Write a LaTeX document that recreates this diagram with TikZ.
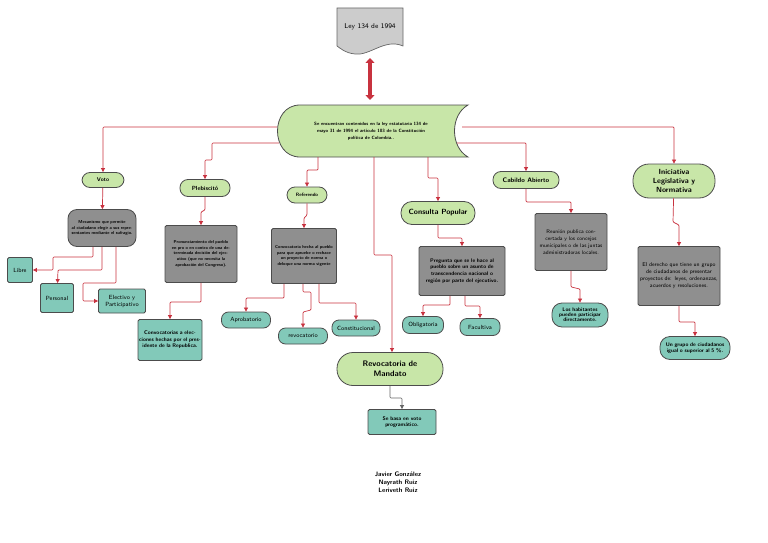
\documentclass[tikz,border=0pt]{standalone}
\usepackage{fontspec}
\setmainfont{Liberation Sans}
\usetikzlibrary{calc,arrows.meta}
\definecolor{gr}{HTML}{C8E6A8}
\definecolor{gy}{HTML}{8F8F8F}
\definecolor{tl}{HTML}{82C9B9}
\definecolor{rd}{HTML}{C8323F}
\begin{document}
\begin{tikzpicture}[x=1pt,y=-1pt,
 base/.style={draw=black!70,line width=0.8pt,align=center,inner sep=1pt,font=\sffamily\bfseries},
 green/.style={base,fill=gr,rounded corners=8pt},
 gray/.style={base,fill=gy,rounded corners=1.5pt,font=\sffamily\bfseries\fontsize{4.3}{5.6}\selectfont},
 teal/.style={base,fill=tl,rounded corners=1.5pt,font=\sffamily\fontsize{6}{7}\selectfont},
 pill/.style={teal,rounded corners=7pt},
 con/.style={draw=rd,line width=0.7pt,-{Triangle[length=4pt,width=4pt]},rounded corners=1pt}]
\useasboundingbox (0,0) rectangle (768,543);
% document shape
\draw[fill=gray!40,draw=black!60,line width=0.7pt] (337,8) -- (403,8) -- (403,46) .. controls (385,38) and (370,56) .. (355,54) .. controls (345,53) and (340,48) .. (337,46) -- cycle;
\node (doc) at (370,27) {\sffamily\fontsize{7}{8}\selectfont Ley 134 de 1994};
% banner
\draw[fill=gr,draw=black!70,line width=0.8pt] (300,105) -- (468,105) .. controls (450,115) and (450,147) .. (468,157) -- (300,157) .. controls (270,157) and (270,105) .. (300,105) -- cycle;
\node[align=center,font=\sffamily\bfseries\fontsize{4.6}{7}\selectfont,minimum width=188pt,minimum height=52pt] (ban) at (371,131) {Se encuentran contenidos en la ley estatutaria 134 de\\mayo 31 de 1994 el artículo 103 de la Constitución\\política de Colombia..};
\draw[rd,line width=3.2pt,{Triangle[length=5pt,width=9pt]}-{Triangle[length=5pt,width=9pt]}] (doc.south |- 0,58) -- (doc.south |- 0,100);
% nodes
\node[green,font=\sffamily\bfseries\fontsize{5.5}{6}\selectfont,minimum width=42pt,minimum height=15pt] (voto) at (103,180) {Voto};
\node[gray,rounded corners=9pt,text width=66pt,minimum height=37pt] (mec) at (102,228) {Mecanismo que permite\\al ciudadano elegir a sus representantes mediante el sufragio.};
\node[teal,minimum width=25pt,minimum height=25pt] (libre) at (20,270) {Libre};
\node[teal,minimum width=33pt,minimum height=29pt] (pers) at (57,298) {Personal};
\node[teal,minimum width=47pt,minimum height=24pt] (elec) at (122,301) {Electivo y\\Participativo};
\node[green,font=\sffamily\bfseries\fontsize{6}{7}\selectfont,minimum width=50pt,minimum height=17pt] (pleb) at (205,188) {Plebiscitó};
\node[gray,text width=70pt,minimum height=57pt] (pron) at (201,254) {Pronunciamiento del pueblo en pro o en contra de una determinada decisión del ejecutivo (que no necesita la aprobación del Congreso).};
\node[teal,font=\sffamily\bfseries\fontsize{5.3}{6.5}\selectfont,text width=62pt,minimum height=41pt] (conv) at (170,340) {Convocatorias a elecciones hechas por el presidente de la Republica.};
\node[green,font=\sffamily\bfseries\fontsize{4.8}{6}\selectfont,minimum width=40pt,minimum height=16pt] (refe) at (307,195) {Referendo};
\node[gray,text width=63pt,minimum height=55pt] (convh) at (304,256) {Convocatoria hecha al pueblo para que apruebe o rechace un proyecto de norma o deloque una norma vigente};
\node[pill,minimum width=49pt,minimum height=16pt] (apro) at (246,320) {Aprobatorio};
\node[pill,minimum width=49pt,minimum height=16pt] (revo) at (303,336) {revocatorio};
\node[pill,minimum width=48pt,minimum height=16pt] (cons) at (356,328) {Constitucional};
\node[green,font=\sffamily\bfseries\fontsize{7.5}{9}\selectfont,minimum width=74pt,minimum height=23pt,rounded corners=11pt] (cp) at (438,213) {Consulta Popular};
\node[gray,font=\sffamily\bfseries\fontsize{5.3}{6.8}\selectfont,text width=84pt,minimum height=49pt] (preg) at (462,271) {Pregunta que se le hace al pueblo sobre un asunto de transcendencia nacional o región por parte del ejecutivo.};
\node[pill,minimum width=41pt,minimum height=17pt] (obli) at (423,325) {Obligatoria};
\node[pill,minimum width=40pt,minimum height=17pt] (facu) at (480,327) {Facultiva};
\node[green,font=\sffamily\bfseries\fontsize{8}{10}\selectfont,minimum width=106pt,minimum height=33pt,rounded corners=16pt] (rm) at (390,369) {Revocatoria de\\Mandato};
\node[teal,font=\sffamily\bfseries\fontsize{5.3}{6.5}\selectfont,minimum width=68pt,minimum height=25pt] (seb) at (402,422) {Se basa en voto\\programático.};
\node[green,font=\sffamily\bfseries\fontsize{6.5}{7}\selectfont,minimum width=66pt,minimum height=17pt] (cab) at (526,180) {Cabildo Abierto};
\node[gray,font=\sffamily\fontsize{5.3}{6.8}\selectfont,text width=70pt,minimum height=57pt] (reu) at (571,242) {Reunión publica concertada y los concejos municipales o de las juntas administradoras locales.};
\node[pill,font=\sffamily\bfseries\fontsize{5.3}{5}\selectfont,text width=54pt,minimum height=24pt,rounded corners=10pt] (hab) at (580,315) {Los habitantes pueden participar directamente.};
\node[green,font=\sffamily\bfseries\fontsize{7.5}{9}\selectfont,minimum width=82pt,minimum height=34pt,rounded corners=16pt] (ini) at (674,181) {Iniciativa\\Legislativa y\\Normativa};
\node[gray,font=\sffamily\fontsize{5.5}{7}\selectfont,text width=80pt,minimum height=59pt] (der) at (679,276) {El derecho que tiene un grupo de ciudadanos de presentar proyectos de: leyes, ordenanzas, acuerdos y resoluciones.};
\node[pill,font=\sffamily\bfseries\fontsize{5.3}{6}\selectfont,text width=68pt,minimum height=23pt,rounded corners=10pt] (ung) at (695,348) {Un grupo de ciudadanos igual o superior al 5 \%.};
\node[font=\sffamily\bfseries\fontsize{6.5}{8}\selectfont,align=center] (aut) at (398,482) {Javier González\\Nayrath Ruiz\\Leriveth Ruiz};
% connectors from banner
\draw[con] ($(ban.west)+(0,-4)$) -| (voto);
\draw[con] ($(ban.west)+(2,12)$) -- (212,143) -- (212,160) -- (205,160) -- (pleb);
\draw[con] ($(ban.south)+(-53,0)$) -- (318,170) -- (307,170) -- (refe);
\draw[con] ($(ban.south)+(3,0)$) -- (374,255) -- (392,255) -- (rm.north -| 392,0);
\draw[con] ($(ban.south)+(57,0)$) -- (428,178) -- (438,178) -- (cp);
\draw[con] ($(ban.east)+(-8,12)$) -| (cab);
\draw[con] ($(ban.east)+(-3,-4)$) -| (ini);
% lower connectors
\draw[con] (voto) -- (mec);
\draw[con] ($(mec.south)+(-9,0)$) -- (93,257) -- (53,257) -- (53,270) -- (libre);
\draw[con] ($(mec.south)+(0,0)$) -- (102,270) -- (58,270) -- (pers);
\draw[con] ($(mec.south)+(14,0)$) -- (116,283) -- (83,283) -- (83,301) -- (elec);
\draw[con] (pleb) -- (205,210) -- (201,212) -- (pron);
\draw[con] ($(pron.south)+(0,0)$) -- (201,302) -- (170,302) -- (conv);
\draw[con] (refe) -- (307,215) -- (304,218) -- (convh);
\draw[con] ($(convh.south)+(-20,0)$) -- (284,298) -- (246,298) -- (apro);
\draw[con] ($(convh.south)+(-1,0)$) -- (303,292) -- (311,292) -- (311,310) -- (303,312) -- (revo);
\draw[con] ($(convh.south)+(15,0)$) -- (319,303) -- (356,303) -- (cons);
\draw[con] (cp) -- (438,238) -- (462,238) -- (preg);
\draw[con] ($(preg.south)+(-12,0)$) -- (450,305) -- (423,305) -- (obli);
\draw[con] ($(preg.south)+(3,0)$) -- (465,306) -- (480,306) -- (facu);
\draw[con,draw=gray!80!black] (rm) -- (390,398) -- (402,398) -- (seb);
\draw[con] (cab) -- (526,202) -- (571,202) -- (reu);
\draw[con] (reu) -- (571,287) -- (580,289) -- (hab);
\draw[con] (ini) -- (673,222) -- (679,225) -- (der);
\draw[con] (der) -- (679,322) -- (695,322) -- (ung);
\end{tikzpicture}
\end{document}
